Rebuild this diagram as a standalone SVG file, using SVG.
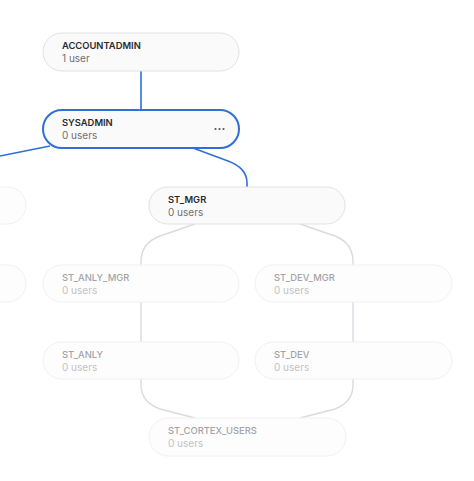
<svg xmlns="http://www.w3.org/2000/svg" width="474" height="481" viewBox="0 0 474 481">
<style>
.bg{fill:#ffffff}
.n rect{fill:#fafafa;stroke:#e2e2e4;stroke-width:1}
.n .t{font-family:Inter,"Liberation Sans",sans-serif;font-size:9.4px;font-weight:600;fill:#2a2a2e}
.n .s{font-family:Inter,"Liberation Sans",sans-serif;font-size:10px;fill:#6f6f73}
.f rect{fill:#fdfdfd;stroke:#f1f1f3;stroke-width:1}
.f .t{font-family:Inter,"Liberation Sans",sans-serif;font-size:9.4px;font-weight:500;fill:#a3a3a8}
.f .s{font-family:Inter,"Liberation Sans",sans-serif;font-size:10px;fill:#c2c2c6}
.sel rect{stroke:#2f6fd6;stroke-width:2}
.blue{fill:none;stroke:#2f6fd6;stroke-width:1.6}
.gray{fill:none;stroke:#d9dbe2;stroke-width:1.4}
</style>
<rect class="bg" x="0" y="0" width="474" height="481"/>
<g id="connectors">
<path class="blue" d="M141,71 L141,110"/>
<path class="blue" d="M50,146 L0,156"/>
<path class="blue" d="M193,148 L228,161 Q247,168 247,183 L247,187"/>
<path class="gray" d="M195,224 L160,236 Q141,243 141,262 L141,265"/>
<path class="gray" d="M300,224 L335,236 Q353,243 353,262 L353,265"/>
<path class="gray" d="M141,302 L141,342"/>
<path class="gray" d="M353,302 L353,342"/>
<path class="gray" d="M141,379 L141,385 Q141,402 160,409 L195,418"/>
<path class="gray" d="M353,379 L353,385 Q353,402 335,409 L300,418"/>
</g>
<g id="left-partial-1" class="f"><rect x="-170" y="187" width="196" height="37" rx="18.5"/></g>
<g id="left-partial-2" class="f"><rect x="-170" y="265" width="196" height="37" rx="18.5"/></g>
<g id="accountadmin" class="n">
<rect x="43" y="33" width="196" height="38" rx="19"/>
<text class="t" x="62" y="49">ACCOUNTADMIN</text>
<text class="s" x="62" y="61.5">1 user</text>
</g>
<g id="sysadmin" class="n sel">
<rect x="43" y="110" width="196" height="38" rx="19"/>
<text class="t" x="62" y="126">SYSADMIN</text>
<text class="s" x="62" y="138.5">0 users</text>
<g fill="#555"><circle cx="215.5" cy="129" r="1.1"/><circle cx="219.5" cy="129" r="1.1"/><circle cx="223.5" cy="129" r="1.1"/></g>
</g>
<g id="st_mgr" class="n">
<rect x="149" y="187" width="196" height="37" rx="18.5"/>
<text class="t" x="168" y="203">ST_MGR</text>
<text class="s" x="168" y="215.5">0 users</text>
</g>
<g id="st_anly_mgr" class="f">
<rect x="43" y="265" width="196" height="37" rx="18.5"/>
<text class="t" x="62" y="281">ST_ANLY_MGR</text>
<text class="s" x="62" y="293.5">0 users</text>
</g>
<g id="st_dev_mgr" class="f">
<rect x="255" y="265" width="197" height="37" rx="18.5"/>
<text class="t" x="274" y="281">ST_DEV_MGR</text>
<text class="s" x="274" y="293.5">0 users</text>
</g>
<g id="st_anly" class="f">
<rect x="43" y="342" width="196" height="37" rx="18.5"/>
<text class="t" x="62" y="358">ST_ANLY</text>
<text class="s" x="62" y="370.5">0 users</text>
</g>
<g id="st_dev" class="f">
<rect x="255" y="342" width="197" height="37" rx="18.5"/>
<text class="t" x="274" y="358">ST_DEV</text>
<text class="s" x="274" y="370.5">0 users</text>
</g>
<g id="st_cortex_users" class="f">
<rect x="149" y="418" width="197" height="38" rx="19"/>
<text class="t" x="168" y="434">ST_CORTEX_USERS</text>
<text class="s" x="168" y="446.5">0 users</text>
</g>
</svg>
